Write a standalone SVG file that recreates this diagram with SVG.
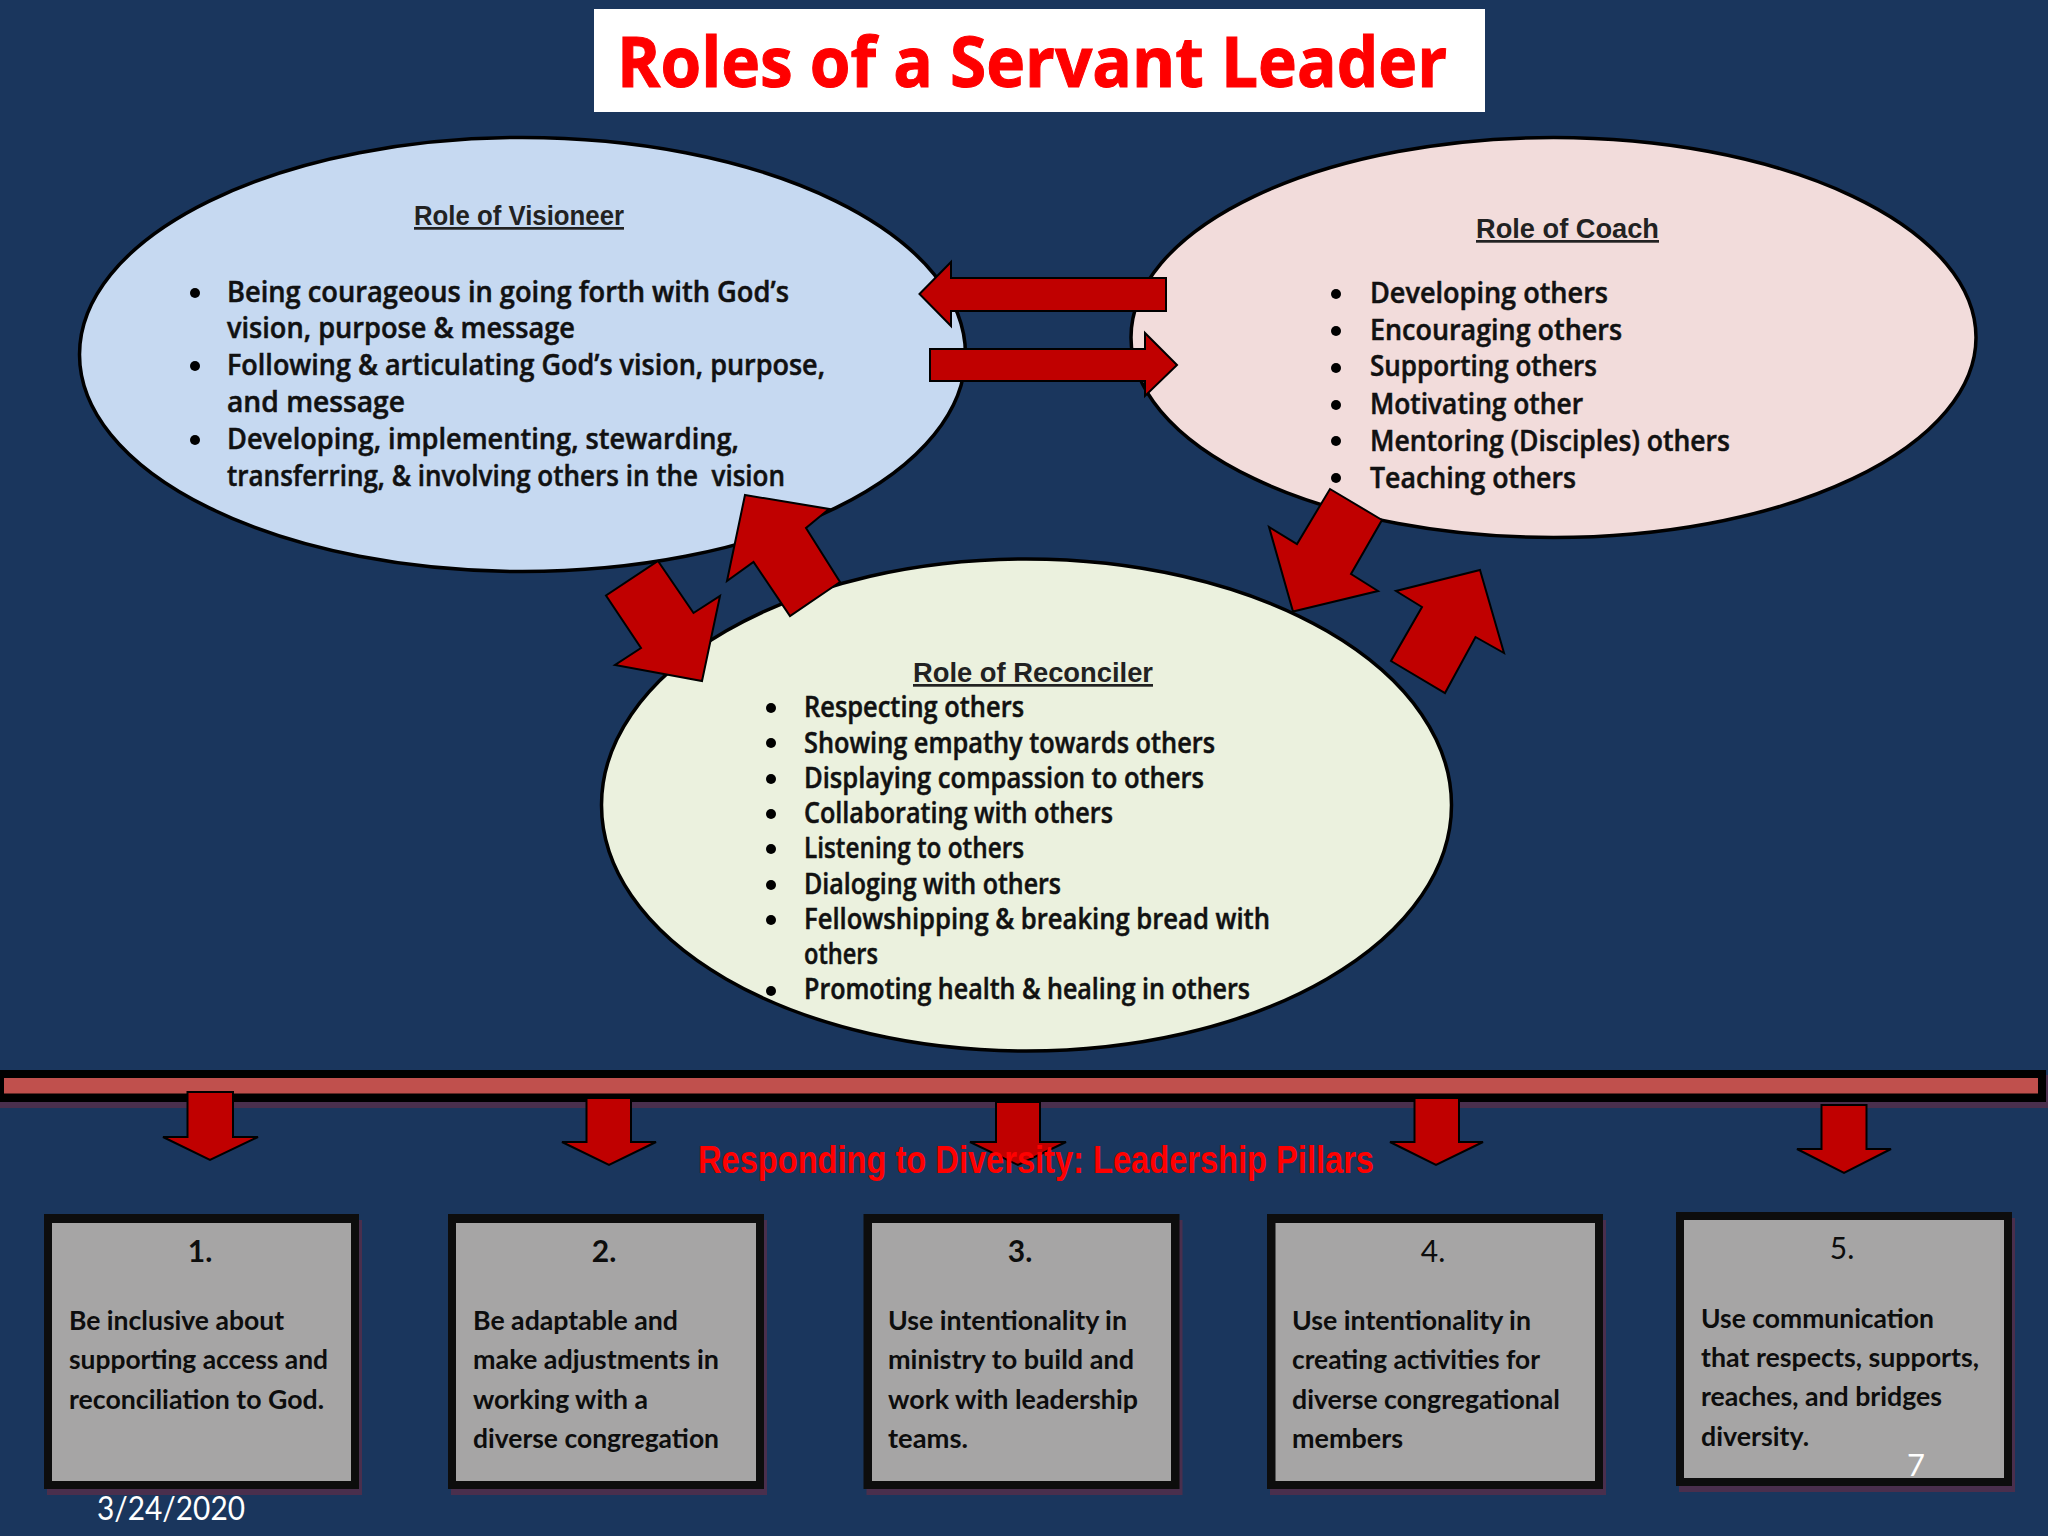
<svg xmlns="http://www.w3.org/2000/svg" width="2048" height="1536" viewBox="0 0 2048 1536">
<style>
.e{stroke:#000;stroke-width:3.500}
.h{font:bold 27px "Liberation Sans",sans-serif;fill:#222;text-decoration:underline}
.b{font:600 28px "Open Sans","Noto Sans",sans-serif;fill:#111;stroke:#111;stroke-width:.5}
.a{fill:#c00000;stroke:#000;stroke-width:2}
.o{fill:#0d0d0d}
.s{fill:#4a2f4d}
.i{fill:#a6a5a5}
.t{font:bold 27px Lato,"Noto Sans",sans-serif;fill:#0d0d0d}
.n{font:bold 30px Lato,"Noto Sans",sans-serif;fill:#0d0d0d;text-anchor:middle}
.m{font:400 30px Lato,"Noto Sans",sans-serif;fill:#0d0d0d;text-anchor:middle}
</style>
<defs><circle id="dot" r="5" fill="#000"/></defs>
<rect width="2048" height="1536" fill="#1a365d"/>
<g id="title"><rect x="594" y="9" width="891" height="103" fill="#fff"/>
<text x="617" y="87" textLength="830" lengthAdjust="spacingAndGlyphs" style="font:bold 70px 'Open Sans','Noto Sans',sans-serif;fill:#f00;stroke:#f00;stroke-width:1">Roles of a Servant Leader</text></g>
<g id="node-visioneer"><ellipse class="e" cx="522.500" cy="354.500" rx="443" ry="217" fill="#c6d9f1"/>
<text class="h" x="414" y="225" textLength="210" lengthAdjust="spacingAndGlyphs">Role of Visioneer</text>
<use href="#dot" x="195" y="293"/><use href="#dot" x="195" y="366"/><use href="#dot" x="195" y="440"/>
<text class="b" x="227" y="302" textLength="562" lengthAdjust="spacingAndGlyphs">Being courageous in going forth with God’s</text>
<text class="b" x="227" y="338" textLength="348" lengthAdjust="spacingAndGlyphs">vision, purpose &amp; message</text>
<text class="b" x="227" y="375" textLength="598" lengthAdjust="spacingAndGlyphs">Following &amp; articulating God’s vision, purpose,</text>
<text class="b" x="227" y="412" textLength="178" lengthAdjust="spacingAndGlyphs">and message</text>
<text class="b" x="227" y="449" textLength="512" lengthAdjust="spacingAndGlyphs">Developing, implementing, stewarding,</text>
<text class="b" x="227" y="486" textLength="558" lengthAdjust="spacingAndGlyphs" xml:space="preserve">transferring, &amp; involving others in the  vision</text></g>
<g id="node-coach"><ellipse class="e" cx="1553.500" cy="337.500" rx="422.500" ry="200" fill="#f2dcdb"/>
<text class="h" x="1476" y="238" textLength="183" lengthAdjust="spacingAndGlyphs">Role of Coach</text>
<use href="#dot" x="1336" y="294"/><use href="#dot" x="1336" y="331"/><use href="#dot" x="1336" y="368"/><use href="#dot" x="1336" y="405"/><use href="#dot" x="1336" y="441"/><use href="#dot" x="1336" y="478"/>
<text class="b" x="1370" y="303" textLength="238" lengthAdjust="spacingAndGlyphs">Developing others</text>
<text class="b" x="1370" y="340" textLength="252" lengthAdjust="spacingAndGlyphs">Encouraging others</text>
<text class="b" x="1370" y="376" textLength="227" lengthAdjust="spacingAndGlyphs">Supporting others</text>
<text class="b" x="1370" y="414" textLength="213" lengthAdjust="spacingAndGlyphs">Motivating other</text>
<text class="b" x="1370" y="451" textLength="360" lengthAdjust="spacingAndGlyphs">Mentoring (Disciples) others</text>
<text class="b" x="1370" y="488" textLength="206" lengthAdjust="spacingAndGlyphs">Teaching others</text></g>
<g id="node-reconciler"><ellipse class="e" cx="1026.500" cy="805" rx="425" ry="246" fill="#ebf1de"/>
<text class="h" x="913" y="682" textLength="240" lengthAdjust="spacingAndGlyphs">Role of Reconciler</text>
<use href="#dot" x="771" y="708"/><use href="#dot" x="771" y="743"/><use href="#dot" x="771" y="779"/><use href="#dot" x="771" y="814"/><use href="#dot" x="771" y="849"/><use href="#dot" x="771" y="885"/><use href="#dot" x="771" y="920"/><use href="#dot" x="771" y="991"/>
<text class="b" x="804" y="717" textLength="220" lengthAdjust="spacingAndGlyphs">Respecting others</text>
<text class="b" x="804" y="753" textLength="411" lengthAdjust="spacingAndGlyphs">Showing empathy towards others</text>
<text class="b" x="804" y="788" textLength="400" lengthAdjust="spacingAndGlyphs">Displaying compassion to others</text>
<text class="b" x="804" y="823" textLength="309" lengthAdjust="spacingAndGlyphs">Collaborating with others</text>
<text class="b" x="804" y="858" textLength="220" lengthAdjust="spacingAndGlyphs">Listening to others</text>
<text class="b" x="804" y="894" textLength="257" lengthAdjust="spacingAndGlyphs">Dialoging with others</text>
<text class="b" x="804" y="929" textLength="466" lengthAdjust="spacingAndGlyphs">Fellowshipping &amp; breaking bread with</text>
<text class="b" x="804" y="964" textLength="74" lengthAdjust="spacingAndGlyphs">others</text>
<text class="b" x="804" y="999" textLength="446" lengthAdjust="spacingAndGlyphs">Promoting health &amp; healing in others</text></g>
<g id="node-bar"><rect x="0" y="1075" width="2048" height="33" fill="#4a2f4d"/><rect x="0" y="1070" width="2046" height="32" fill="#000"/><rect x="4" y="1078" width="2034" height="15.500" fill="#c0504d"/></g>
<g id="connectors">
<polygon class="a" points="919.500,294 951,262 951,278 1166,278 1166,311 951,311 951,326"/>
<polygon class="a" points="1177,365 1145,333 1145,349 930,349 930,381 1145,381 1145,396"/>
<polygon class="a" points="745,495 829,509 806,528 840,582 790,616 753.500,562 727,581"/>
<polygon class="a" points="658,561 693.500,613 720,596 702,681 615,665 641,648 606,595.500"/>
<polygon class="a" points="1330,489 1382,520 1351,574 1378,591 1293,611.500 1269,527 1297,544"/>
<polygon class="a" points="1480,570 1504,653 1475.500,637 1445,693 1391,661 1422,607 1396,591"/>
<polygon class="a" points="187.500,1092 233,1092 233,1137 258,1137 210,1160 163,1137 187.500,1137"/>
<polygon class="a" points="586.500,1098 631,1098 631,1142 656,1142 609,1165 562,1142 586.500,1142"/>
<polygon class="a" points="996,1102 1040,1102 1040,1142 1066,1142 1018,1165 970,1142 996,1142"/>
<polygon class="a" points="1414.500,1098 1459,1098 1459,1142 1483,1142 1436,1165 1390,1142 1414.500,1142"/>
<polygon class="a" points="1821.500,1105 1866.500,1105 1866.500,1149 1891,1149 1844,1173 1797,1149 1821.500,1149"/>
</g>
<text id="pillars-label" x="698" y="1173" textLength="676" lengthAdjust="spacingAndGlyphs" style="font:bold 39px 'Liberation Sans',sans-serif;fill:#f00">Responding to Diversity: Leadership Pillars</text>
<g id="pillar-1"><rect class="s" x="47" y="1220" width="315" height="275"/><rect class="o" x="44" y="1214" width="315" height="275"/><rect class="i" x="52" y="1223" width="299" height="258"/>
<text class="n" x="200" y="1262">1.</text>
<text class="t" x="69" y="1330" textLength="215" lengthAdjust="spacingAndGlyphs">Be inclusive about</text>
<text class="t" x="69" y="1369" textLength="259" lengthAdjust="spacingAndGlyphs">supporting access and</text>
<text class="t" x="69" y="1409" textLength="255" lengthAdjust="spacingAndGlyphs">reconciliation to God.</text></g>
<g id="pillar-2"><rect class="s" x="451" y="1220" width="316" height="275"/><rect class="o" x="448" y="1214" width="316" height="275"/><rect class="i" x="456" y="1223" width="300" height="258"/>
<text class="n" x="604" y="1262">2.</text>
<text class="t" x="473" y="1330" textLength="205" lengthAdjust="spacingAndGlyphs">Be adaptable and</text>
<text class="t" x="473" y="1369" textLength="246" lengthAdjust="spacingAndGlyphs">make adjustments in</text>
<text class="t" x="473" y="1409" textLength="175" lengthAdjust="spacingAndGlyphs">working with a</text>
<text class="t" x="473" y="1448" textLength="246" lengthAdjust="spacingAndGlyphs">diverse congregation</text></g>
<g id="pillar-3"><rect class="s" x="866.500" y="1220" width="316" height="275"/><rect class="o" x="863.500" y="1214" width="316" height="275"/><rect class="i" x="872" y="1223" width="299" height="258"/>
<text class="n" x="1020" y="1262">3.</text>
<text class="t" x="888" y="1330" textLength="239" lengthAdjust="spacingAndGlyphs">Use intentionality in</text>
<text class="t" x="888" y="1369" textLength="246" lengthAdjust="spacingAndGlyphs">ministry to build and</text>
<text class="t" x="888" y="1409" textLength="250" lengthAdjust="spacingAndGlyphs">work with leadership</text>
<text class="t" x="888" y="1448" textLength="80" lengthAdjust="spacingAndGlyphs">teams.</text></g>
<g id="pillar-4"><rect class="s" x="1270" y="1220" width="336" height="275"/><rect class="o" x="1267" y="1214" width="336" height="275"/><rect class="i" x="1275.500" y="1223" width="319.500" height="258"/>
<text class="m" x="1433" y="1262">4.</text>
<text class="t" x="1292" y="1330" textLength="239" lengthAdjust="spacingAndGlyphs">Use intentionality in</text>
<text class="t" x="1292" y="1369" textLength="248" lengthAdjust="spacingAndGlyphs">creating activities for</text>
<text class="t" x="1292" y="1409" textLength="268" lengthAdjust="spacingAndGlyphs">diverse congregational</text>
<text class="t" x="1292" y="1448" textLength="111" lengthAdjust="spacingAndGlyphs">members</text></g>
<g id="pillar-5"><rect class="s" x="1679" y="1218" width="336" height="274"/><rect class="o" x="1676" y="1212" width="336" height="274"/><rect class="i" x="1684" y="1220" width="320" height="258"/>
<text class="m" x="1842" y="1259">5.</text>
<text class="t" x="1701" y="1328" textLength="233" lengthAdjust="spacingAndGlyphs">Use communication</text>
<text class="t" x="1701" y="1367" textLength="278" lengthAdjust="spacingAndGlyphs">that respects, supports,</text>
<text class="t" x="1701" y="1406" textLength="241" lengthAdjust="spacingAndGlyphs">reaches, and bridges</text>
<text class="t" x="1701" y="1446" textLength="108" lengthAdjust="spacingAndGlyphs">diversity.</text></g>
<text id="page-number" x="1916" y="1476" text-anchor="middle" style="font:400 31px Lato,sans-serif;fill:#fff">7</text>
<text id="date" x="97" y="1520" textLength="148" lengthAdjust="spacingAndGlyphs" style="font:400 33px Lato,sans-serif;fill:#fff">3/24/2020</text>
</svg>
